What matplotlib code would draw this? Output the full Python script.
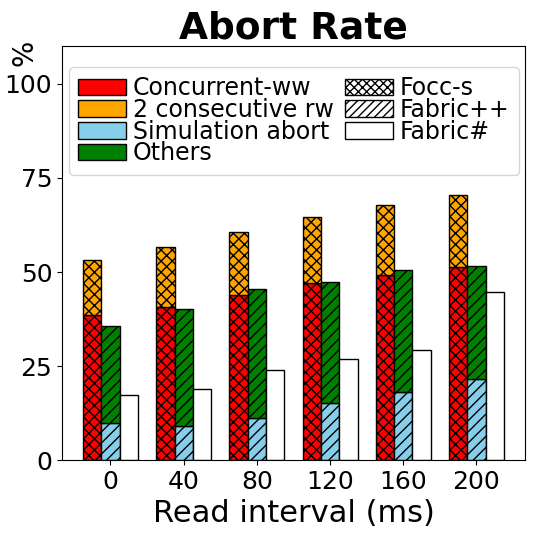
import matplotlib
matplotlib.use("Agg")
import matplotlib.pyplot as plt
import numpy as np
from matplotlib.patches import Patch

intervals = ["0", "40", "80", "120", "160", "200"]
# Focc-s: Concurrent-ww (bottom) + 2 consecutive rw (top), totals
focc_ww = [38.5, 40.6, 43.8, 47.0, 49.2, 51.4]
focc_total = [53.1, 56.7, 60.7, 64.5, 67.9, 70.4]
# Fabric++: Simulation abort (bottom) + Others (top), totals
fpp_sim = [10.0, 9.1, 11.1, 15.1, 18.2, 21.5]
fpp_total = [35.6, 40.3, 45.5, 47.4, 50.5, 51.6]
# Fabric#
fsharp = [17.4, 18.9, 23.9, 27.0, 29.4, 44.6]

focc_rw = [t - b for t, b in zip(focc_total, focc_ww)]
fpp_oth = [t - b for t, b in zip(fpp_total, fpp_sim)]

plt.rcParams['hatch.linewidth'] = 1.0
fig = plt.figure(figsize=(5.39, 5.37), dpi=100)
ax = fig.add_axes([0.115, 0.143, 0.859, 0.771])

x = np.arange(len(intervals))
w = 0.25
ax.bar(x - w, focc_ww, w, color='red', edgecolor='black', hatch='xxx', linewidth=1)
ax.bar(x - w, focc_rw, w, bottom=focc_ww, color='orange', edgecolor='black', hatch='xxx', linewidth=1)
ax.bar(x, fpp_sim, w, color='skyblue', edgecolor='black', hatch='///', linewidth=1)
ax.bar(x, fpp_oth, w, bottom=fpp_sim, color='green', edgecolor='black', hatch='///', linewidth=1)
ax.bar(x + w, fsharp, w, color='white', edgecolor='black', linewidth=1)

ax.set_xticks(x)
ax.set_xticklabels(intervals, fontsize=18)
ax.set_ylim(0, 110)
ax.set_yticks([0, 25, 50, 75, 100])
ax.tick_params(axis='y', labelsize=18)
ax.set_xlabel('Read interval (ms)', fontsize=22)
ax.set_ylabel('%', fontsize=20)
ax.yaxis.set_label_coords(-0.05, 0.985)
ax.set_title('Abort Rate', fontsize=27, fontweight='bold', pad=4)

handles = [
    Patch(facecolor='red', edgecolor='black', label='Concurrent-ww'),
    Patch(facecolor='orange', edgecolor='black', label='2 consecutive rw'),
    Patch(facecolor='skyblue', edgecolor='black', label='Simulation abort'),
    Patch(facecolor='green', edgecolor='black', label='Others'),
    Patch(facecolor='white', edgecolor='black', hatch='xxxx', label='Focc-s'),
    Patch(facecolor='white', edgecolor='black', hatch='////', label='Fabric++'),
    Patch(facecolor='white', edgecolor='black', label='Fabric#'),
]
ax.legend(handles=handles, ncol=2, fontsize=17, loc='upper left',
          bbox_to_anchor=(0.015, 0.95), borderaxespad=0, labelspacing=-0.1,
          handletextpad=0.3, columnspacing=0.5, handlelength=2.0)

fig.savefig('out.png', dpi=100)
